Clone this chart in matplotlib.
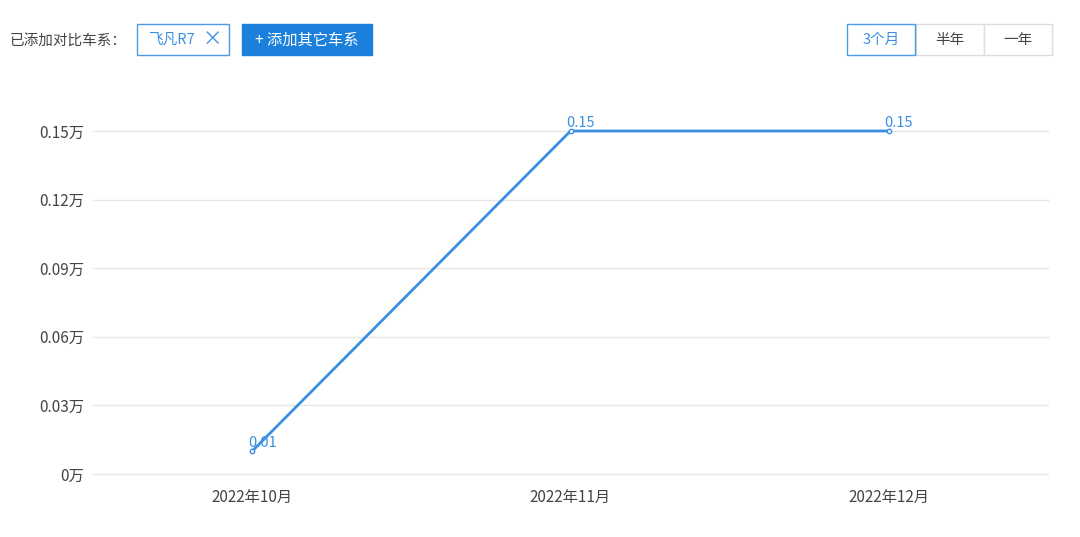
import matplotlib
matplotlib.use("Agg")
import matplotlib.pyplot as plt
from matplotlib.patches import Rectangle

plt.rcParams['font.family'] = ['Noto Sans CJK SC', 'DejaVu Sans']

months = ["2022年10月", "2022年11月", "2022年12月"]
sales = [0.01, 0.15, 0.15]
yticks = [0, 0.03, 0.06, 0.09, 0.12, 0.15]
ytick_labels = ["0万", "0.03万", "0.06万", "0.09万", "0.12万", "0.15万"]
point_labels = ["0.01", "0.15", "0.15"]

W, H = 1080, 537
fig = plt.figure(figsize=(W / 100, H / 100), dpi=100)
fig.patch.set_facecolor("white")

ax = fig.add_axes([93 / W, 1 - 474 / H, (1048 - 93) / W, (474 - 131) / H])
ax.set_xlim(-0.5, 2.5)
ax.set_ylim(0, 0.15)
line_color = "#3b8fe3"
x = list(range(len(months)))
ax.plot(x, sales, color=line_color, lw=2, clip_on=False, zorder=3)
ax.scatter(x, sales, s=10, facecolor="white", edgecolor=line_color, lw=1, zorder=4, clip_on=False)
for xi, yi, lab in zip(x, sales, point_labels):
    ax.annotate(lab, (xi, yi), xytext=(-3, 0.5), textcoords="offset points",
                ha="left", va="bottom", color="#3b8fe3", fontsize=10.5)

ax.set_yticks(yticks)
ax.set_yticklabels(ytick_labels)
ax.set_xticks(x)
ax.set_xticklabels(months)
ax.tick_params(axis="both", length=0, labelsize=11, colors="#444444")
ax.tick_params(axis="y", pad=6.5)
ax.tick_params(axis="x", pad=11)
for yt in yticks:
    ax.axhline(yt, color="#e6e6e6", lw=1, zorder=1, clip_on=False)
for s in ax.spines.values():
    s.set_visible(False)

# header controls (in pixel coordinates)
def px(xp, yp):
    return xp / W, 1 - yp / H

def rect(x0, y0, x1, y1, fc, ec, lw=1):
    fig.patches.append(Rectangle(px(x0, y1), (x1 - x0) / W, (y1 - y0) / H,
                                 transform=fig.transFigure, facecolor=fc,
                                 edgecolor=ec, lw=lw))

fig.text(*px(10, 41), "已添加对比车系：", ha="left", va="center", fontsize=10.5, color="#444444")
rect(137, 24, 229, 55, "white", "#4a9be8", 1)
fig.text(*px(149, 40), "飞凡R7", ha="left", va="center", fontsize=10.5, color="#3b8fe3")
fig.text(*px(212, 40), "×", ha="center", va="center", fontsize=14, color="#3b8fe3")
rect(242, 24, 372, 55, "#1b7fdc", "#1b7fdc", 1)
fig.text(*px(307, 40), "+ 添加其它车系", ha="center", va="center", fontsize=11, color="white")

rect(916, 24, 984, 55, "white", "#dddddd", 1)
rect(984, 24, 1052, 55, "white", "#dddddd", 1)
rect(847, 24, 915, 55, "white", "#4a9be8", 1)
fig.text(*px(881, 40), "3个月", ha="center", va="center", fontsize=10.5, color="#3b8fe3")
fig.text(*px(950, 40), "半年", ha="center", va="center", fontsize=10.5, color="#444444")
fig.text(*px(1018, 40), "一年", ha="center", va="center", fontsize=10.5, color="#444444")

fig.savefig("out.png", dpi=100, facecolor="white")
